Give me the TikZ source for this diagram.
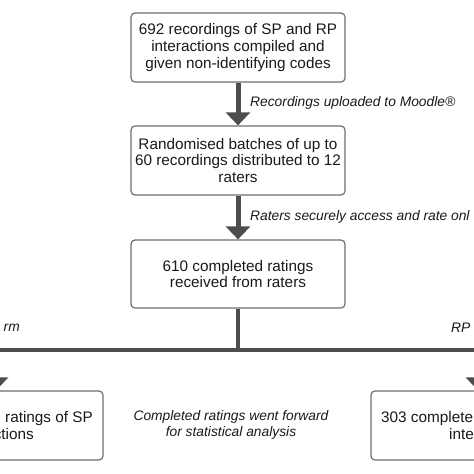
\documentclass[tikz,border=0pt]{standalone}
\usepackage{fontspec}
\setmainfont{Liberation Sans}
\usetikzlibrary{arrows.meta}
\definecolor{boxline}{HTML}{6E6E6E}
\definecolor{arrowc}{HTML}{4D4D4D}
\definecolor{txt}{HTML}{1A1A1A}
\begin{document}
\begin{tikzpicture}[x=1pt,y=1pt,
  box/.style={draw=boxline, line width=1.2pt, rounded corners=4pt, fill=white,
    minimum width=214pt, minimum height=69pt, inner sep=0pt, align=center,
    text=txt, font=\fontsize{15.3}{16.7}\selectfont},
  boxtext/.style={text=txt, inner sep=0pt, font=\fontsize{15.3}{16.7}\selectfont},
  lab/.style={text=txt, font=\fontsize{13.8}{16.7}\selectfont\itshape, inner sep=0pt, align=center},
  flow/.style={draw=arrowc, line width=5pt, -{Triangle[width=24pt,length=13pt]}},
  bar/.style={draw=arrowc, line width=4pt}]
\useasboundingbox (0,0) rectangle (474,-474);
\clip (0,0) rectangle (474,-474);
\fill[white] (0,0) rectangle (474,-474);
% boxes
\node[box] (b1) at (238,-47.5) {692 recordings of SP and RP\\interactions compiled and\\given non-identifying codes};
\node[box] (b2) at (238,-160.5) {Randomised batches of up to\\60 recordings distributed to 12\\raters};
\node[box, minimum height=68pt] (b3) at (238,-274) {610 completed ratings\\received from raters};
\node[box] (lb) at (-4,-425.5) {};
\node[box] (rb) at (478,-425.5) {};
% partial texts of the cut-off boxes
\node[boxtext, anchor=base east] (lt1) at (93,-422) {ratings of SP};
\node[boxtext, anchor=base east] (lt2) at (34,-439) {ctions};
\node[boxtext, anchor=base west] (rt1) at (381,-422) {303 complete};
\node[boxtext, anchor=base west] (rt2) at (449,-439) {intera};
% connectors
\coordinate (j) at (238,-350);
\coordinate (jl) at (-4,-350);
\coordinate (jr) at (478,-350);
\draw[flow] (b1) -- (b2);
\draw[flow] (b2) -- (b3);
\draw[bar] (b3.south) -- (j);
\draw[bar] (jl) -- (jr);
\draw[flow] (jl) -- (lb.north);
\draw[flow] (jr) -- (rb.north);
% labels
\node[lab, anchor=west] (l1) at (250,-103) {Recordings uploaded to Moodle®};
\node[lab, anchor=west] (l2) at (250,-217) {Raters securely access and rate onl};
\node[lab, anchor=east] (l3) at (20,-328) {rm};
\node[lab, anchor=west] (l4) at (451,-328) {RP};
\node[lab] (l5) at (231,-425) {Completed ratings went forward\\for statistical analysis};
\end{tikzpicture}
\end{document}
